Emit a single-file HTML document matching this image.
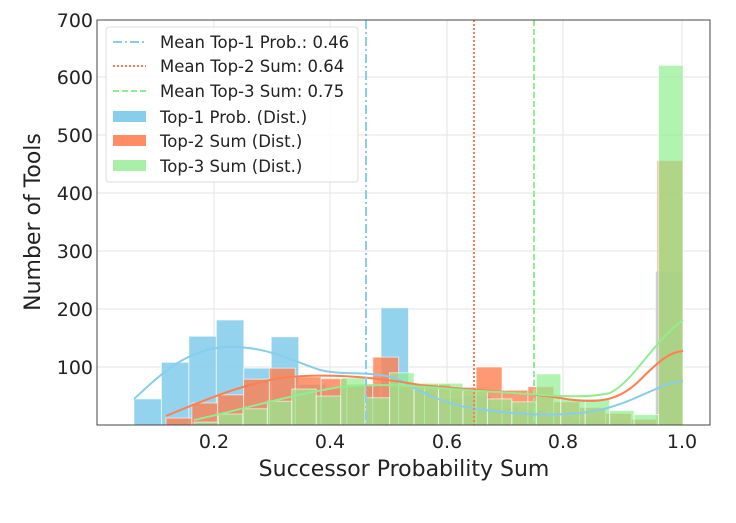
<!DOCTYPE html>
<html><head><meta charset="utf-8"><style>
body{margin:0;background:#fff;}
svg text{font-family:"DejaVu Sans","Liberation Sans",sans-serif;fill:#222;}
</style></head><body>
<svg id="s" width="736" height="518" xmlns="http://www.w3.org/2000/svg">
<g stroke="#e3e3e3" stroke-width="1">
<line x1="214" y1="20" x2="214" y2="425"/><line x1="330" y1="20" x2="330" y2="425"/><line x1="447" y1="20" x2="447" y2="425"/><line x1="563" y1="20" x2="563" y2="425"/><line x1="682" y1="20" x2="682" y2="425"/>
<line x1="97" y1="367" x2="710" y2="367"/><line x1="97" y1="309" x2="710" y2="309"/><line x1="97" y1="251" x2="710" y2="251"/><line x1="97" y1="193" x2="710" y2="193"/><line x1="97" y1="135" x2="710" y2="135"/><line x1="97" y1="77" x2="710" y2="77"/>
</g>
<g id="bars"></g>
<g fill="none" stroke-width="2">
<path stroke="#87CEEB" d="M134,399 C160,375 185,350 225,347 C265,345 295,362 320,370 C345,376 375,370 400,380 C420,392 440,402 470,408 C510,414 560,418 600,410 C640,400 660,383 683,381"/>
<path stroke="#FF7F50" d="M166,416 C200,402 240,385 280,378 C320,373 370,376 420,385 C470,390 520,392 560,398 C600,405 620,400 640,380 C660,360 670,352 683,351"/>
<path stroke="#90EE90" d="M194,420 C240,410 290,395 340,387 C390,382 430,388 480,391 C540,394 580,400 610,393 C635,380 650,345 683,320"/>
</g>
<line x1="366" y1="20" x2="366" y2="425" stroke="#87CEEB" stroke-width="2" stroke-dasharray="9,3,2,3"/>
<line x1="474" y1="20" x2="474" y2="425" stroke="#FF7F50" stroke-width="2" stroke-dasharray="2,2"/>
<line x1="534" y1="20" x2="534" y2="425" stroke="#90EE90" stroke-width="2" stroke-dasharray="6,3"/>
<rect x="97" y="20" width="613" height="405" fill="none" stroke="#444" stroke-width="1"/>
<g font-size="19" text-anchor="middle">
<text x="214" y="448">0.2</text><text x="330" y="448">0.4</text><text x="447" y="448">0.6</text><text x="563" y="448">0.8</text><text x="682" y="448">1.0</text>
</g>
<g font-size="19" text-anchor="end">
<text x="93" y="374">100</text><text x="93" y="316">200</text><text x="93" y="258">300</text><text x="93" y="200">400</text><text x="93" y="142">500</text><text x="93" y="84">600</text><text x="93" y="27">700</text>
</g>
<text x="404" y="476" font-size="22" text-anchor="middle">Successor Probability Sum</text>
<text transform="translate(40,222) rotate(-90)" font-size="22" text-anchor="middle">Number of Tools</text>
<rect x="106" y="27" width="252" height="155" rx="3" fill="#fff" fill-opacity="0.85" stroke="#ddd"/>
<line x1="113" y1="42" x2="146" y2="42" stroke="#87CEEB" stroke-width="2" stroke-dasharray="9,3,2,3"/>
<line x1="113" y1="66" x2="146" y2="66" stroke="#FF7F50" stroke-width="2" stroke-dasharray="2,2"/>
<line x1="113" y1="91" x2="146" y2="91" stroke="#90EE90" stroke-width="2" stroke-dasharray="6,3"/>
<rect x="113" y="111" width="33" height="11" fill="#87CEEB"/>
<rect x="113" y="135" width="33" height="11" fill="#FF8C64"/>
<rect x="113" y="160" width="33" height="11" fill="#A8F0A8"/>
<g font-size="16.5">
<text x="160" y="48">Mean Top-1 Prob.: 0.46</text>
<text x="160" y="72">Mean Top-2 Sum: 0.64</text>
<text x="160" y="97">Mean Top-3 Sum: 0.75</text>
<text x="160" y="123">Top-1 Prob. (Dist.)</text>
<text x="160" y="147">Top-2 Sum (Dist.)</text>
<text x="160" y="172">Top-3 Sum (Dist.)</text>
</g>
</svg>
<script>
var g=document.getElementById('bars');
function draw(x0,w,vals,col,op){vals.forEach(function(v,i){var h=v*0.58;var r=document.createElementNS('http://www.w3.org/2000/svg','rect');
r.setAttribute('x',x0+i*w);r.setAttribute('y',425-h);r.setAttribute('width',w);r.setAttribute('height',h);
r.setAttribute('fill',col);r.setAttribute('fill-opacity',op);r.setAttribute('stroke','#fff');r.setAttribute('stroke-opacity','0.6');r.setAttribute('stroke-width','1');g.appendChild(r);});}
draw(134,27.45,[45,108,153,181,98,152,70,65,70,202,60,45,50,30,25,15,10,8,5,265],'#87CEEB',0.9);
draw(166,25.85,[12,38,52,79,98,83,80,70,117,70,70,65,100,60,66,40,30,20,10,456],'#FF7F50',0.8);
draw(194,24.45,[5,19,28,41,62,50,81,47,90,72,72,60,45,40,88,45,45,25,18,620],'#90EE90',0.7);
</script>
</body></html>
